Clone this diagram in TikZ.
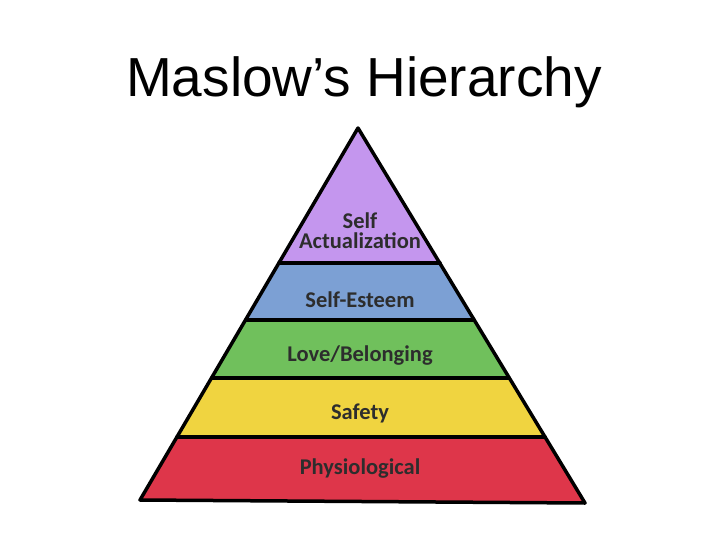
\documentclass[tikz,border=0pt]{standalone}
\usepackage{fontspec}
\setmainfont{Liberation Sans}
\newfontfamily\carfont{Carlito}
\definecolor{cpur}{RGB}{196,150,238}
\definecolor{cblu}{RGB}{124,160,212}
\definecolor{cgre}{RGB}{112,192,92}
\definecolor{cyel}{RGB}{240,212,64}
\definecolor{cred}{RGB}{222,54,74}
\definecolor{ctxt}{RGB}{45,45,45}
\begin{document}
\begin{tikzpicture}[x=1pt,y=-1pt,
  lbl/.style={font=\carfont\bfseries\fontsize{22.5}{24}\selectfont,text=ctxt,align=center},
  edge/.style={line width=3.5pt,line cap=round,line join=round}]
\useasboundingbox (0,0) rectangle (728,546);
\node (title) at (364,82) {\fontsize{55}{60}\selectfont Maslow’s Hierarchy};
\coordinate (A) at (358,128);
\coordinate (L1) at (279,263); \coordinate (R1) at (440,263);
\coordinate (L2) at (246,320); \coordinate (R2) at (474,320);
\coordinate (L3) at (212,378); \coordinate (R3) at (509,378);
\coordinate (L4) at (177,437); \coordinate (R4) at (545,437);
\coordinate (L5) at (140,500); \coordinate (R5) at (585,503);
\fill[cpur] (A)--(R1)--(L1)--cycle;
\fill[cblu] (L1)--(R1)--(R2)--(L2)--cycle;
\fill[cgre] (L2)--(R2)--(R3)--(L3)--cycle;
\fill[cyel] (L3)--(R3)--(R4)--(L4)--cycle;
\fill[cred] (L4)--(R4)--(R5)--(L5)--cycle;
\draw[edge] (A)--(R5)--(L5)--cycle;
\draw[edge] (L1)--(R1);
\draw[edge] (L2)--(R2);
\draw[edge] (L3)--(R3);
\draw[edge] (L4)--(R4);
\node[lbl] (t1) at (360,231) {Self\\[-4pt]Actualization};
\node[lbl] (t2) at (360,300) {Self-Esteem};
\node[lbl] (t3) at (360,356) {Love/Belonging};
\node[lbl] (t4) at (360,413) {Safety};
\node[lbl] (t5) at (360,469) {Physiological};
\end{tikzpicture}
\end{document}
